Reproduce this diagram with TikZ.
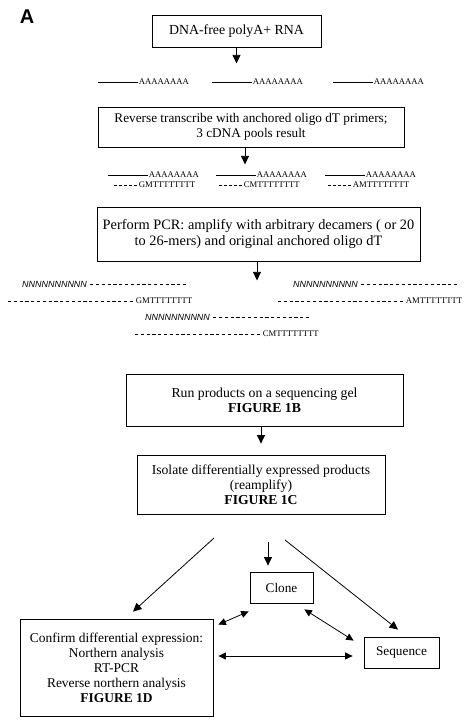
\documentclass[tikz,border=0pt]{standalone}
\usepackage{fontspec}
\setmainfont{Liberation Serif}
\newfontfamily\labelsans{Liberation Sans}
\usetikzlibrary{arrows.meta,positioning}

\tikzset{
    stepbox/.style={draw, line width=0.8bp, align=center, inner sep=0pt,
        font=\fontsize{13.3}{15.3}\selectfont},
    flow/.style={-{Triangle[length=8.5bp,width=8bp]}, line width=0.8bp},
    twoway/.style={{Triangle[length=7.5bp,width=7bp]}-{Triangle[length=7.5bp,width=7bp]}, line width=0.8bp},
    seqtxt/.style={font=\fontsize{8.7}{9}\selectfont, inner sep=0.5bp, anchor=west},
    primer/.style={font=\labelsans\itshape\fontsize{9}{10}\selectfont, inner sep=0pt, anchor=west},
    shortdash/.style={line width=0.8bp, dash pattern=on 3bp off 2bp},
    longdash/.style={line width=0.8bp, dash pattern=on 3.2bp off 2.6bp}
}

\begin{document}
\begin{tikzpicture}[x=1bp, y=-1bp]
    \useasboundingbox (0,0) rectangle (474,724);
    \node[font=\labelsans\bfseries\fontsize{20}{20}\selectfont] (panel) at (27,17) {A};

    % steps of the protocol
    \node[stepbox, minimum width=169bp, minimum height=32bp, font=\fontsize{13.9}{16}\selectfont] (polyA) at (236.5,31) {DNA-free polyA+ RNA};
    \node[stepbox, minimum width=306bp, minimum height=40bp] (rtbox) at (251,127)
        {Reverse transcribe with anchored oligo dT primers;\\3 cDNA pools result};
    \node[stepbox, minimum width=323bp, minimum height=54bp, font=\fontsize{14.4}{16}\selectfont] (pcrbox) at (258.5,234)
        {Perform PCR: amplify with arbitrary decamers ( or 20\\to 26-mers) and original anchored oligo dT};
    \node[stepbox, minimum width=277bp, minimum height=52bp, font=\fontsize{13.8}{15.3}\selectfont] (gelbox) at (264.5,400)
        {Run products on a sequencing gel\\\textbf{FIGURE 1B}};
    \node[stepbox, minimum width=248bp, minimum height=59bp, font=\fontsize{13.7}{15.3}\selectfont] (isobox) at (261,484.5)
        {Isolate differentially expressed products\\(reamplify)\\\textbf{FIGURE 1C}};
    \node[stepbox, minimum width=63bp, minimum height=31bp] (clone) at (281.5,587.5) {Clone};
    \node[stepbox, minimum width=75bp, minimum height=31bp] (seq) at (401.5,652.5) {Sequence};
    \node[stepbox, minimum width=193bp, minimum height=97bp, font=\fontsize{13.5}{15}\selectfont] (confirm) at (116.5,667.5)
        {Confirm differential expression:\\Northern analysis\\RT-PCR\\Reverse northern analysis\\\textbf{FIGURE 1D}};

    % mRNA with polyA tails
    \foreach \xa/\i in {98/1, 212/2, 333/3}
        \draw[line width=0.8bp] (\xa,82) -- ++(40,0) node[seqtxt] (rna\i) {AAAAAAAA};

    % cDNA pools
    \foreach \xa/\xb/\b/\i in {108/114/G/1, 216/219/C/2, 325/328/A/3} {
        \draw[line width=0.8bp] (\xa,175) -- ++(40,0) node[seqtxt] (tail\i) {AAAAAAAA};
        \draw[shortdash] (\xb,185) -- ++(24,0) node[seqtxt] (anchor\i) {\b MTTTTTTTT};
    }

    % PCR products
    \node[primer] (decG) at (22,284) {NNNNNNNNNN};
    \draw[longdash] ([xshift=3bp]decG.east) -- ++(98,0);
    \draw[longdash] (8,301) -- ++(127,0) node[seqtxt] (pcrG) {GMTTTTTTTT};
    \node[primer] (decA) at (293,284) {NNNNNNNNNN};
    \draw[longdash] ([xshift=3bp]decA.east) -- ++(98,0);
    \draw[longdash] (278,301) -- ++(127,0) node[seqtxt] (pcrA) {AMTTTTTTTT};
    \node[primer] (decC) at (145,317) {NNNNNNNNNN};
    \draw[longdash] ([xshift=3bp]decC.east) -- ++(98,0);
    \draw[longdash] (135,334) -- ++(127,0) node[seqtxt] (pcrC) {CMTTTTTTTT};

    % arrows between steps
    \draw[flow] (polyA.south) -- ++(0,16);
    \draw[flow] ([xshift=-6bp]rtbox.south) -- ++(0,17);
    \draw[flow] ([xshift=-1.5bp]pcrbox.south) -- ++(0,19);
    \draw[flow, shorten >=11bp] (gelbox.south -| isobox.north) -- (isobox.north);

    % three ways out of the isolated products
    \coordinate (splitL) at (214,538);
    \coordinate (splitM) at (268,542);
    \coordinate (splitR) at (285,540);
    \draw[flow] (splitL) -- ([xshift=16.5bp,yshift=7bp]confirm.north);
    \draw[flow, shorten >=6bp] (splitM) -- (splitM |- clone.north);
    \draw[flow] (splitR) -- ([xshift=-3.5bp,yshift=7bp]seq.north);

    % cross checks
    \draw[twoway] ([xshift=5bp,yshift=-6bp]confirm.north east) -- ([xshift=-1bp,yshift=-8bp]clone.south west);
    \draw[twoway] ([xshift=-9bp,yshift=-6bp]clone.south east) -- ([xshift=-10bp,yshift=-4bp]seq.north west);
    \coordinate (crossL) at ([xshift=5bp,yshift=11.5bp]confirm.east);
    \draw[twoway, shorten >=11bp] (crossL) -- (crossL -| seq.west);
\end{tikzpicture}
\end{document}
